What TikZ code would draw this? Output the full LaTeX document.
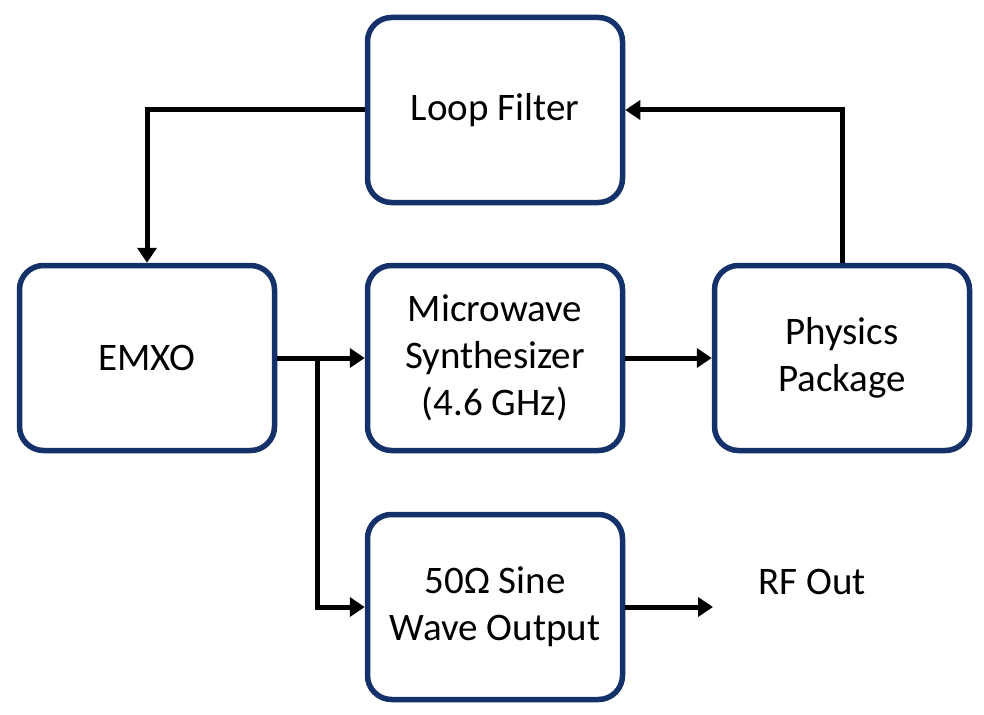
\documentclass[tikz,border=0pt]{standalone}
\usepackage{fontspec}
\setmainfont{Carlito}
\usetikzlibrary{arrows.meta}
\definecolor{navy}{HTML}{15316A}
\tikzset{
  blockbox/.style={draw=navy, line width=5.5pt, rounded corners=24pt, minimum width=255pt, minimum height=185pt, align=center, font=\fontsize{39}{47}\selectfont, inner sep=0pt},
  arr/.style={draw=black, line width=5pt, -{Triangle[length=15pt,width=19pt]}},
  lbl/.style={font=\fontsize{39}{47}\selectfont, inner sep=0pt}
}
\begin{document}
\begin{tikzpicture}[x=1pt,y=-1pt]
\useasboundingbox (0,0) rectangle (984,714);
\node[blockbox] (lf) at (495,110) {Loop Filter};
\node[blockbox] (emxo) at (147,358) {EMXO};
\node[blockbox] (syn) at (495,358) {Microwave\\Synthesizer\\(4.6 GHz)};
\node[blockbox] (pp) at (842,358) {Physics\\Package};
\node[blockbox] (sine) at (495,607) {50Ω Sine\\Wave Output};
\node[lbl] (rf) at (812,582) {RF Out};
\coordinate (br) at (317,358);
\coordinate (rfend) at (713,607);
\draw[arr] (lf.west) -| (emxo.north);
\draw[arr] (pp.north) |- (lf.east);
\draw[arr] (emxo.east) -- (syn.west);
\draw[arr] (br) |- (sine.west);
\draw[arr] (syn.east) -- (pp.west);
\draw[arr] (sine.east) -- (rfend);
\end{tikzpicture}
\end{document}
